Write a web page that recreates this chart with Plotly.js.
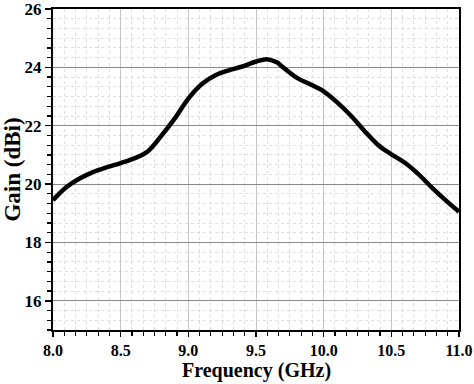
<!DOCTYPE html>
<html>
<head>
<meta charset="utf-8">
<script src="https://cdn.plot.ly/plotly-3.0.1.min.js"></script>
<style>html,body{margin:0;padding:0;background:#fff;}#chart{width:474px;height:384px;}</style>
</head>
<body>
<div id="chart"></div>
<script>
const freqGHz = [8.0, 8.1, 8.2, 8.3, 8.4, 8.5, 8.6, 8.7, 8.8, 8.9, 9.0, 9.1, 9.2, 9.3, 9.4, 9.5, 9.58, 9.65, 9.7, 9.8, 9.9, 10.0, 10.1, 10.2, 10.3, 10.4, 10.5, 10.6, 10.7, 10.8, 10.9, 11.0];
const gainDBi = [19.45, 19.9, 20.2, 20.42, 20.58, 20.72, 20.88, 21.12, 21.65, 22.25, 22.93, 23.43, 23.73, 23.9, 24.03, 24.2, 24.28, 24.18, 24.0, 23.65, 23.42, 23.18, 22.8, 22.35, 21.83, 21.35, 21.02, 20.73, 20.34, 19.88, 19.45, 19.05];
const xTicks = [8.0, 8.5, 9.0, 9.5, 10.0, 10.5, 11.0];
const xTickText = ['8.0', '8.5', '9.0', '9.5', '10.0', '10.5', '11.0'];
const yTicks = [16, 18, 20, 22, 24, 26];
const xTitle = 'Frequency (GHz)';
const yTitle = 'Gain (dBi)';

const fontFam = '"Liberation Serif", "Times New Roman", serif';

const trace = {
  x: freqGHz, y: gainDBi, type: 'scatter', mode: 'lines',
  line: {color: '#000', width: 4.5, shape: 'spline', smoothing: 1},
  hoverinfo: 'skip', showlegend: false
};

const layout = {
  width: 474, height: 384,
  margin: {l: 53, r: 15, t: 9, b: 54},
  paper_bgcolor: '#fff', plot_bgcolor: '#fff',
  font: {family: fontFam, color: '#000'},
  xaxis: {
    range: [8.0, 11.0], tickvals: xTicks, ticktext: xTickText,
    ticks: 'outside', ticklen: 5, tickwidth: 1.5, tickcolor: '#000',
    showline: true, linecolor: '#000', linewidth: 2, mirror: true,
    showgrid: true, gridcolor: '#c4c4c4', gridwidth: 1,
    zeroline: false, ticklabeloverflow: 'allow',
    tickfont: {family: fontFam, size: 16, weight: 'bold', color: '#000'},
    minor: {dtick: 0.5/6, tick0: 8.0, ticks: 'outside', ticklen: 4, tickwidth: 1.2, tickcolor: '#000', showgrid: true, gridcolor: '#dedede', griddash: 'dot', gridwidth: 1},
    automargin: false, fixedrange: true
  },
  yaxis: {
    range: [15, 26], tickvals: yTicks,
    ticks: 'outside', ticklen: 6, tickwidth: 1.5, tickcolor: '#000',
    showline: true, linecolor: '#000', linewidth: 2, mirror: true,
    showgrid: true, gridcolor: '#8a8a8a', gridwidth: 1,
    zeroline: false, ticklabeloverflow: 'allow',
    tickfont: {family: fontFam, size: 17, weight: 'bold', color: '#000'},
    title: {text: yTitle, font: {family: fontFam, size: 23, weight: 'bold', color: '#000'}, standoff: 4},
    minor: {dtick: 2/6, tick0: 14, ticks: 'outside', ticklen: 4, tickwidth: 1.2, tickcolor: '#000', showgrid: true, gridcolor: '#dedede', griddash: 'dot', gridwidth: 1},
    automargin: false, fixedrange: true
  },
  annotations: [{
    text: xTitle, xref: 'paper', yref: 'paper', x: 0.5, y: 0,
    xanchor: 'center', yanchor: 'bottom', yshift: -54, showarrow: false,
    font: {family: fontFam, size: 20, weight: 'bold', color: '#000'}
  }]
};

Plotly.newPlot('chart', [trace], layout, {staticPlot: true, displayModeBar: false});
</script>
</body>
</html>
